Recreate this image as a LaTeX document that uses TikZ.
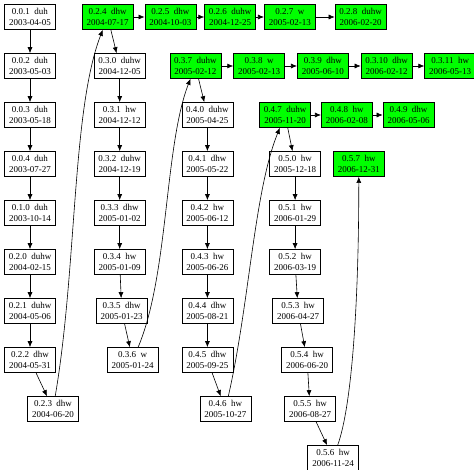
\documentclass[tikz,border=0pt]{standalone}
\usepackage{fontspec}
\setmainfont{Liberation Serif}
\usetikzlibrary{arrows.meta,positioning}

\begin{document}
\begin{tikzpicture}[x=1pt,y=1pt,
  font=\fontsize{9}{10.5}\selectfont, node distance=23.3pt and 12pt,
  b/.style={draw,line width=0.7pt,minimum width=51pt,minimum height=25pt,inner sep=2pt,align=center,fill=white},
  g/.style={b,fill=green},
  a/.style={-{Latex[length=6pt,width=5pt]},line width=0.6pt}]
\useasboundingbox (0,0) rectangle (474,-469);
% 0.0 -- 0.2.3
\node[b] (v001) at (30,-17) {0.0.1~~duh\\2003-04-05};
\node[b,below=of v001] (v002) {0.0.2~~duh\\2003-05-03};
\node[b,below=of v002] (v003) {0.0.3~~duh\\2003-05-18};
\node[b,below=of v003] (v004) {0.0.4~~duh\\2003-07-27};
\node[b,below=of v004] (v010) {0.1.0~~duh\\2003-10-14};
\node[b,below=of v010] (v020) {0.2.0~~duhw\\2004-02-15};
\node[b,below=of v020] (v021) {0.2.1~~duhw\\2004-05-06};
\node[b,below=of v021] (v022) {0.2.2~~dhw\\2004-05-31};
\node[b,below=of v022,xshift=23pt] (v023) {0.2.3~~dhw\\2004-06-20};
% 0.2.4 -- 0.2.8
\node[g,right=26pt of v001] (v024) {0.2.4~~dhw\\2004-07-17};
\node[g,right=11pt of v024] (v025) {0.2.5~~dhw\\2004-10-03};
\node[g,right=8pt of v025] (v026) {0.2.6~~duhw\\2004-12-25};
\node[g,right=8pt of v026] (v027) {0.2.7~~w\\2005-02-13};
\node[g,right=19pt of v027] (v028) {0.2.8~~duhw\\2006-02-20};
% 0.3
\node[b,below=of v024,xshift=12pt] (v030) {0.3.0~~duhw\\2004-12-05};
\node[b,below=of v030] (v031) {0.3.1~~hw\\2004-12-12};
\node[b,below=of v031] (v032) {0.3.2~~duhw\\2004-12-19};
\node[b,below=of v032] (v033) {0.3.3~~dhw\\2005-01-02};
\node[b,below=of v033] (v034) {0.3.4~~hw\\2005-01-09};
\node[b,below=of v034,xshift=2pt] (v035) {0.3.5~~dhw\\2005-01-23};
\node[b,below=of v035,xshift=11pt] (v036) {0.3.6~~w\\2005-01-24};
\node[g,right=24pt of v030] (v037) {0.3.7~~duhw\\2005-02-12};
\node[g,right=of v037] (v038) {0.3.8~~w\\2005-02-13};
\node[g,right=of v038] (v039) {0.3.9~~dhw\\2005-06-10};
\node[g,right=of v039] (v0310) {0.3.10~~dhw\\2006-02-12};
\node[g,right=of v0310] (v0311) {0.3.11~~hw\\2006-05-13};
% 0.4
\node[b,below=of v037,xshift=12pt] (v040) {0.4.0~~duhw\\2005-04-25};
\node[b,below=of v040] (v041) {0.4.1~~dhw\\2005-05-22};
\node[b,below=of v041] (v042) {0.4.2~~hw\\2005-06-12};
\node[b,below=of v042] (v043) {0.4.3~~hw\\2005-06-26};
\node[b,below=of v043] (v044) {0.4.4~~dhw\\2005-08-21};
\node[b,below=of v044] (v045) {0.4.5~~dhw\\2005-09-25};
\node[b,below=of v045,xshift=18pt] (v046) {0.4.6~~hw\\2005-10-27};
\node[g,right=26pt of v040] (v047) {0.4.7~~duhw\\2005-11-20};
\node[g,right=10pt of v047] (v048) {0.4.8~~hw\\2006-02-08};
\node[g,right=10pt of v048] (v049) {0.4.9~~dhw\\2006-05-06};
% 0.5
\node[b,below=of v047,xshift=10pt] (v050) {0.5.0~~hw\\2005-12-18};
\node[b,below=of v050] (v051) {0.5.1~~hw\\2006-01-29};
\node[b,below=of v051] (v052) {0.5.2~~hw\\2006-03-19};
\node[b,below=of v052,xshift=3pt] (v053) {0.5.3~~hw\\2006-04-27};
\node[b,below=of v053,xshift=9pt] (v054) {0.5.4~~hw\\2006-06-20};
\node[b,below=of v054,xshift=3pt] (v055) {0.5.5~~hw\\2006-08-27};
\node[b,below=of v055,xshift=23pt] (v056) {0.5.6~~hw\\2006-11-24};
\node[g,right=of v050] (v057) {0.5.7~~hw\\2006-12-31};
% edges
\draw[a](v001)--(v002);\draw[a](v002)--(v003);\draw[a](v003)--(v004);\draw[a](v004)--(v010);
\draw[a](v010)--(v020);\draw[a](v020)--(v021);\draw[a](v021)--(v022);\draw[a](v022)--(v023);
\draw[a](v023) .. controls +(24,140) and +(-36,-93) .. (v024);
\draw[a](v024)--(v025);\draw[a](v025)--(v026);\draw[a](v026)--(v027);\draw[a](v027)--(v028);
\draw[a](v024)--(v030);\draw[a](v030)--(v031);\draw[a](v031)--(v032);\draw[a](v032)--(v033);
\draw[a](v033)--(v034);\draw[a](v034)--(v035);\draw[a](v035)--(v036);
\draw[a](v036) .. controls +(36,85) and +(-31,-80) .. (v037);
\draw[a](v037)--(v038);\draw[a](v038)--(v039);\draw[a](v039)--(v0310);\draw[a](v0310)--(v0311);
\draw[a](v037)--(v040);\draw[a](v040)--(v041);\draw[a](v041)--(v042);\draw[a](v042)--(v043);
\draw[a](v043)--(v044);\draw[a](v044)--(v045);\draw[a](v045)--(v046);
\draw[a](v046) .. controls +(24,105) and +(-31,-76) .. (v047);
\draw[a](v047)--(v048);\draw[a](v048)--(v049);
\draw[a](v047)--(v050);\draw[a](v050)--(v051);\draw[a](v051)--(v052);\draw[a](v052)--(v053);
\draw[a](v053)--(v054);\draw[a](v054)--(v055);\draw[a](v055)--(v056);
\draw[a](v056) .. controls +(19,53) and +(0,-137) .. (v057);
\end{tikzpicture}
\end{document}
